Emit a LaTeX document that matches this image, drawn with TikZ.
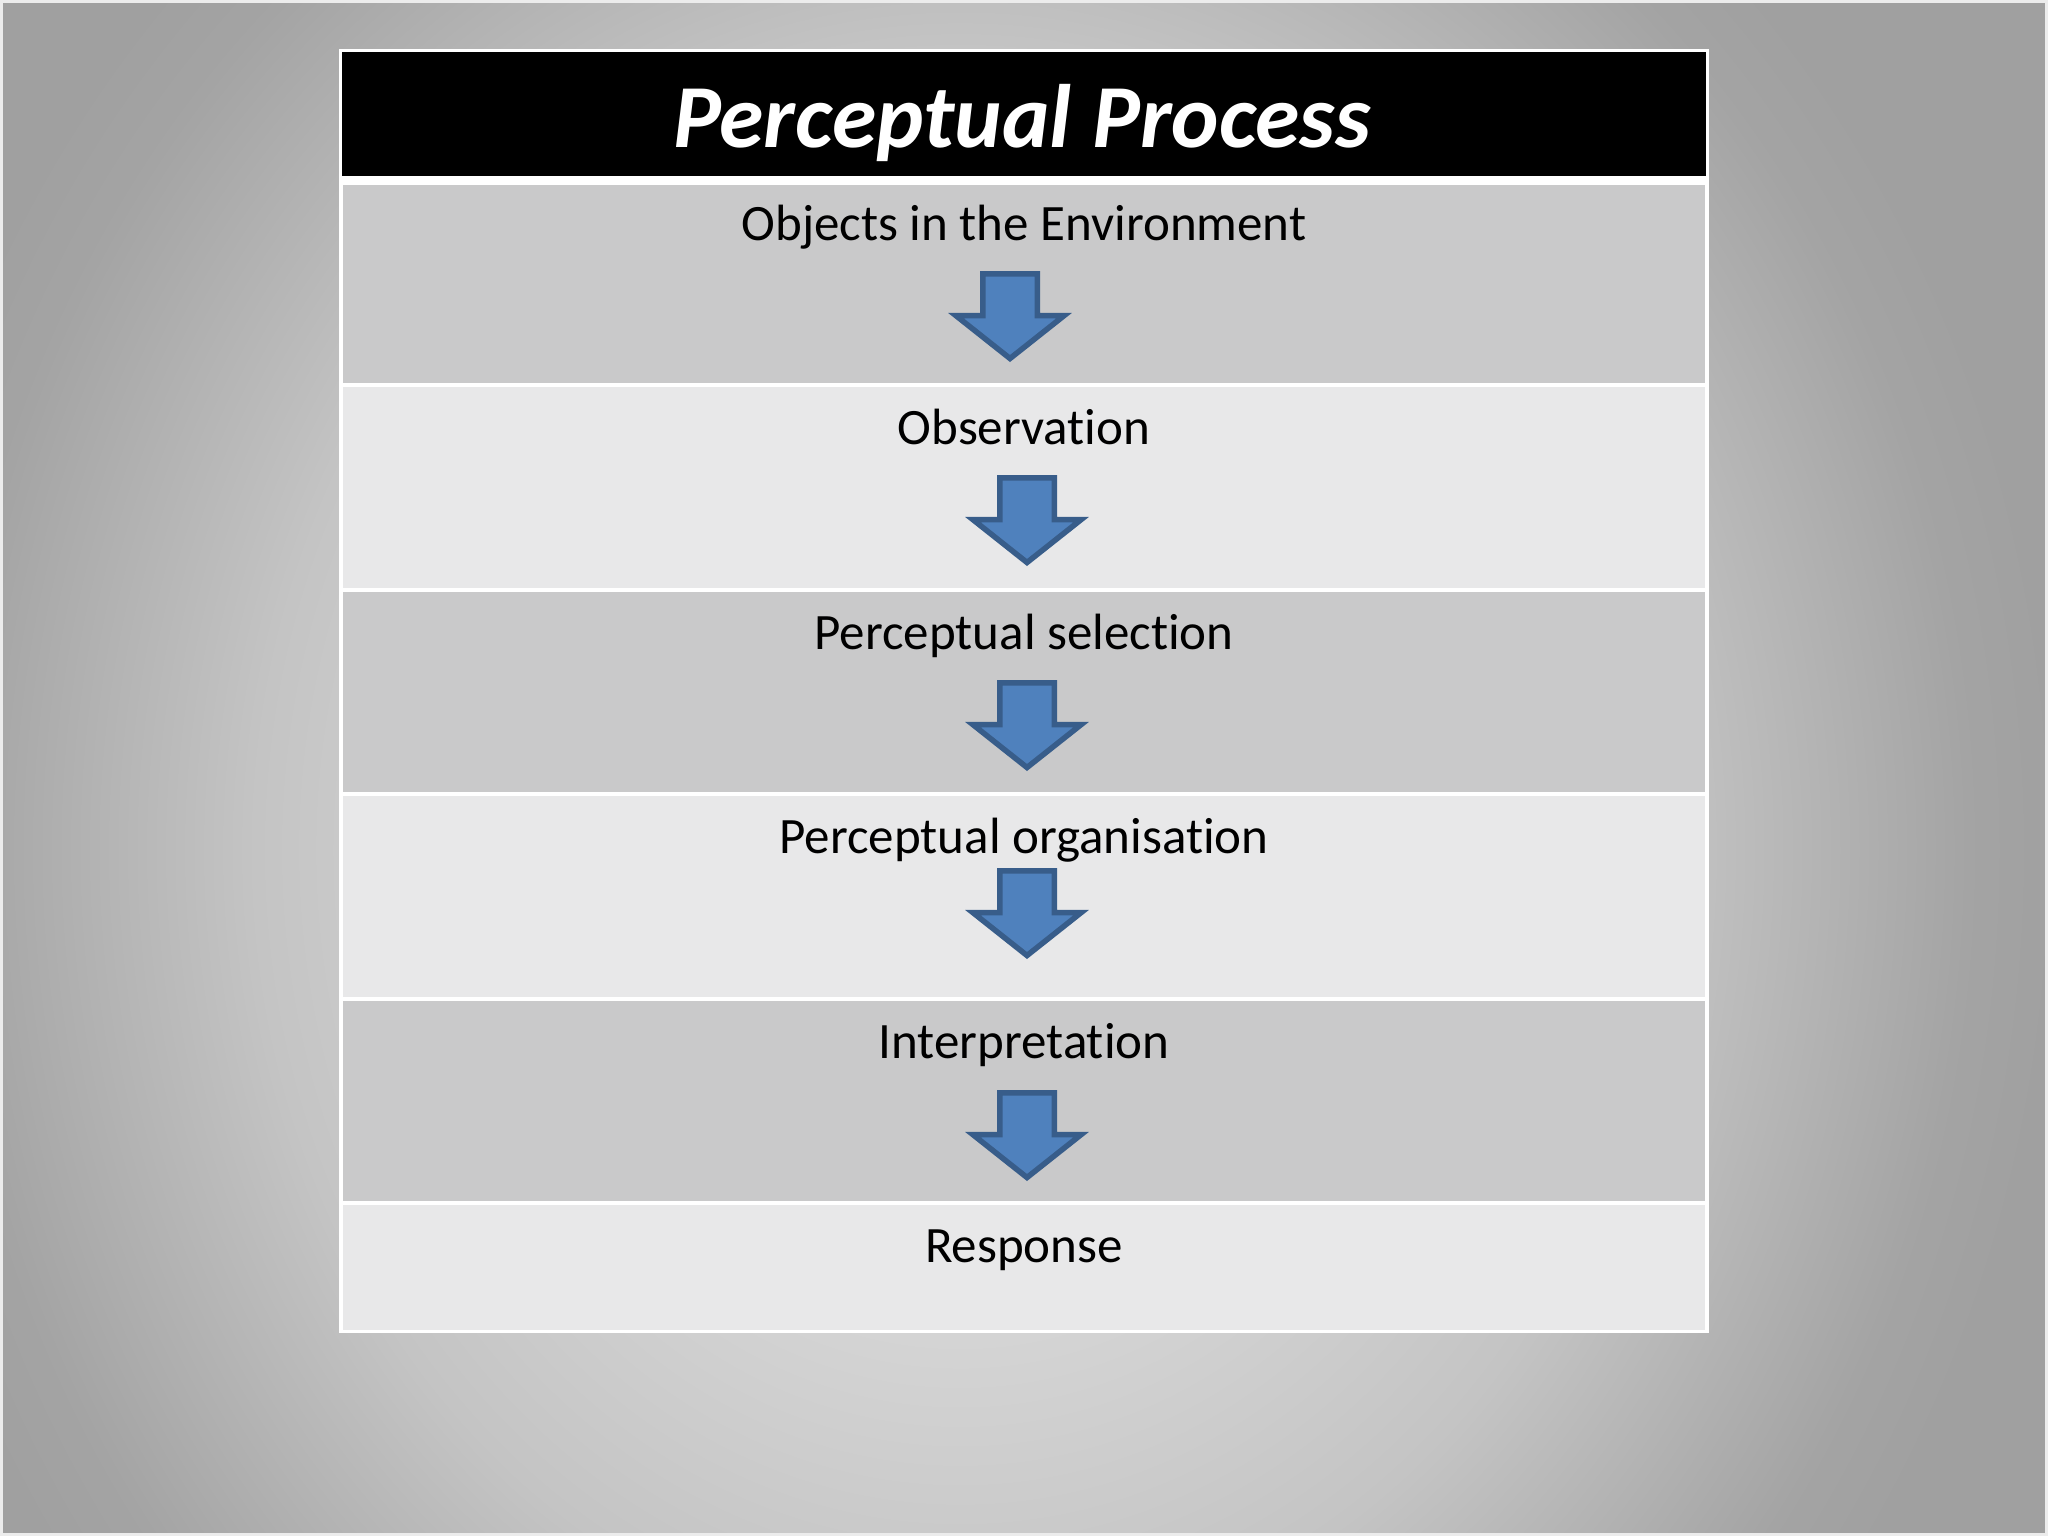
\documentclass[tikz,border=0pt]{standalone}
\usepackage{fontspec}
\setmainfont{Carlito}[Ligatures=NoCommon]
\definecolor{rowD}{HTML}{C9C9CA}
\definecolor{rowL}{HTML}{E8E8E9}
\definecolor{arrowfill}{HTML}{4F81BD}
\definecolor{arrowline}{HTML}{385D8A}
\definecolor{bgin}{HTML}{D6D6D6}
\definecolor{bgmid}{HTML}{C4C4C4}
\definecolor{bgout}{HTML}{A0A0A0}
\pgfdeclareradialshading{bgsh}{\pgfpoint{0bp}{0bp}}{color(0bp)=(bgin); color(9bp)=(bgin); color(16bp)=(bgmid); color(23bp)=(bgout!90!bgmid); color(25bp)=(bgout); color(50bp)=(bgout)}
\tikzset{
  cellD/.style={fill=rowD},
  cellL/.style={fill=rowL},
  lbl/.style={font=\fontsize{14.5}{17}\selectfont, text=black, anchor=base, inner sep=0pt},
  titlelbl/.style={font=\fontsize{25.6}{30}\selectfont\bfseries\itshape, text=white, anchor=base, inner sep=0pt},
  flowarrow/.style={fill=arrowfill, draw=arrowline, line width=0.055cm, line join=miter}
}
\newcommand\blockarrow[2]{%
  \begin{scope}[shift={(#1,#2)}]
    \draw[flowarrow] (-27.25,2.75) -- (27.25,2.75) -- (27.25,44.7) -- (54,44.7) -- (0,87.5) -- (-54,44.7) -- (-27.25,44.7) -- cycle;
  \end{scope}}
\begin{document}
\begin{tikzpicture}[x=0.01cm,y=-0.01cm]
\useasboundingbox (0,0) rectangle (2048,1536);
% background
\fill[bgout] (0,0) rectangle (2048,1536);
\begin{scope}
  \clip (0,0) rectangle (2048,1536);
  \shade[shading=bgsh] (960,850) ellipse (1100 and 1250);
\end{scope}
\draw[white!85!gray, line width=0.03cm] (1.5,1.5) rectangle (2046.5,1534.5);
% table
\fill[white] (339,49) rectangle (1709,1333);
\fill[black] (342,52) rectangle (1706,176);
\fill[cellD] (343,185) rectangle (1705,383);
\fill[cellL] (343,387) rectangle (1705,588);
\fill[cellD] (343,592) rectangle (1705,792);
\fill[cellL] (343,796) rectangle (1705,997);
\fill[cellD] (343,1001) rectangle (1705,1201);
\fill[cellL] (343,1205) rectangle (1705,1330);
% texts
\node[titlelbl] (title) at (1022,147) {Perceptual Process};
\node[lbl] (objects) at (1024,240) {Objects in the Environment};
\node[lbl] (observation) at (1024,444) {Observation};
\node[lbl] (selection) at (1024,649) {Perceptual selection};
\node[lbl] (organisation) at (1024,853) {Perceptual organisation};
\node[lbl] (interpretation) at (1024,1058) {Interpretation};
\node[lbl] (response) at (1024,1262) {Response};
% arrows
\blockarrow{1010}{271}
\blockarrow{1027}{475}
\blockarrow{1027}{680}
\blockarrow{1027}{868}
\blockarrow{1027}{1090}
\end{tikzpicture}
\end{document}
